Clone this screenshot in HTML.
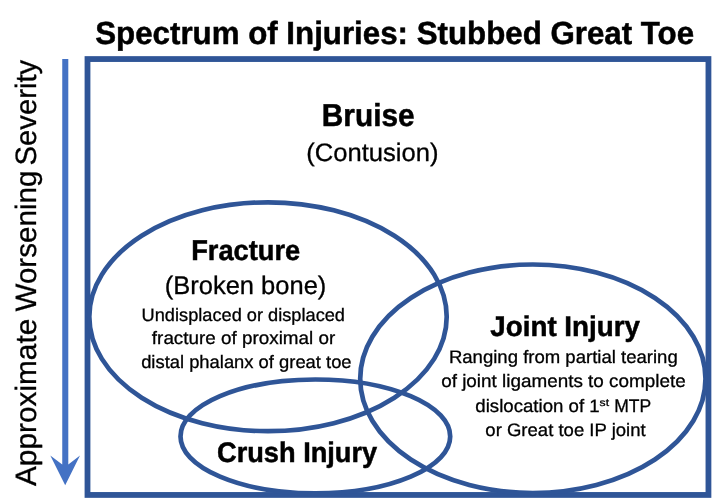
<!DOCTYPE html>
<html><head><meta charset="utf-8">
<style>
html,body{margin:0;padding:0;background:#fff;width:716px;height:500px;overflow:hidden}
svg{display:block;filter:blur(0.35px)}
text{font-family:"Liberation Sans",sans-serif;text-rendering:geometricPrecision;fill:#000;stroke:#000}
text.r{stroke-width:0.3}
text.b{font-weight:bold;stroke-width:0.5}
</style></head><body>
<svg width="716" height="500" viewBox="0 0 716 500">
<rect x="0" y="0" width="716" height="500" fill="#fff"/>
<polygon id="arrow" fill="#4472C4" points="62.25,59 68.3,59 68.3,464.5 80,455.5 65.2,485.3 50.3,455.5 62.25,464.5"/>
<rect id="frame" x="87.5" y="59.05" width="620.95" height="435.9" fill="none" stroke="#2F5597" stroke-width="5.8"/>
<g fill="none" stroke="#2F5597" stroke-width="4.7">
<ellipse cx="268" cy="316.75" rx="178.7" ry="114.45"/>
<ellipse cx="532.85" cy="378.75" rx="172.65" ry="114.25"/>
<ellipse cx="315.35" cy="436.4" rx="134.85" ry="56.9"/>
</g>
<text id="t1" class="b" x="95.24" y="44.25" font-size="32.00" textLength="598.85" lengthAdjust="spacingAndGlyphs">Spectrum of Injuries: Stubbed Great Toe</text>
<text id="t2" class="b" x="321.85" y="126.35" font-size="31.72" textLength="92.74" lengthAdjust="spacingAndGlyphs">Bruise</text>
<text id="t3" class="r" x="306.24" y="161.35" font-size="25.18" textLength="132.34" lengthAdjust="spacingAndGlyphs">(Contusion)</text>
<text id="t4" class="b" x="191.19" y="259.65" font-size="28.59" textLength="109.06" lengthAdjust="spacingAndGlyphs">Fracture</text>
<text id="t5" class="r" x="164.72" y="294.45" font-size="25.46" textLength="161.59" lengthAdjust="spacingAndGlyphs">(Broken bone)</text>
<text id="t6" class="r" x="141.60" y="320.65" font-size="17.99" textLength="203.40" lengthAdjust="spacingAndGlyphs">Undisplaced or displaced</text>
<text id="t7" class="r" x="151.89" y="344.45" font-size="17.99" textLength="183.35" lengthAdjust="spacingAndGlyphs">fracture of proximal or</text>
<text id="t8" class="r" x="141.17" y="368.35" font-size="17.99" textLength="210.42" lengthAdjust="spacingAndGlyphs">distal phalanx of great toe</text>
<text id="t9" class="b" x="490.34" y="335.85" font-size="28.30" textLength="149.60" lengthAdjust="spacingAndGlyphs">Joint Injury</text>
<text id="t10" class="r" x="448.93" y="363.45" font-size="17.99" textLength="228.78" lengthAdjust="spacingAndGlyphs">Ranging from partial tearing</text>
<text id="t11" class="r" x="441.17" y="387.45" font-size="17.99" textLength="244.59" lengthAdjust="spacingAndGlyphs">of joint ligaments to complete</text>
<text id="t12" class="r" x="475.35" y="411.75" font-size="17.99" textLength="124.35" lengthAdjust="spacingAndGlyphs">dislocation of 1</text>
<text id="t16" class="r" x="599.63" y="405.55" font-size="10.36" textLength="9.44" lengthAdjust="spacingAndGlyphs">st</text>
<text id="t17" class="r" x="614.18" y="411.75" font-size="18.21" textLength="36.98" lengthAdjust="spacingAndGlyphs">MTP</text>
<text id="t13" class="r" x="485.34" y="436.15" font-size="17.99" textLength="160.38" lengthAdjust="spacingAndGlyphs">or Great toe IP joint</text>
<text id="t14" class="b" x="217.00" y="461.60" font-size="28.30" textLength="160.21" lengthAdjust="spacingAndGlyphs">Crush Injury</text>
<text id="t15a" class="r" transform="translate(35.65,486.08) rotate(-90)" x="0" y="0" font-size="29.44" textLength="167.39" lengthAdjust="spacingAndGlyphs">Approximate</text>
<text id="t15b" class="r" transform="translate(35.65,311.46) rotate(-90)" x="0" y="0" font-size="29.44" textLength="140.84" lengthAdjust="spacingAndGlyphs">Worsening</text>
<text id="t15c" class="r" transform="translate(35.65,165.43) rotate(-90)" x="0" y="0" font-size="29.44" textLength="105.58" lengthAdjust="spacingAndGlyphs">Severity</text>
</svg>
</body></html>
